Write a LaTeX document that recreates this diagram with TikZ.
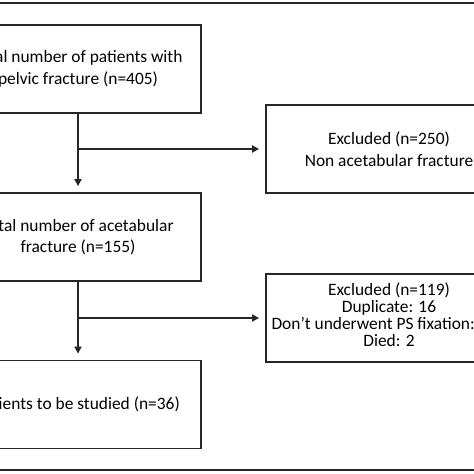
\documentclass[tikz,border=0pt]{standalone}
\usepackage{fontspec}
\setmainfont{Carlito}
\usetikzlibrary{arrows.meta}
\begin{document}
\begin{tikzpicture}[x=1pt,y=-1pt,
  box/.style={draw=black!85, line width=1.8pt, minimum width=246pt, minimum height=88pt,
    align=center, inner sep=0pt, font=\fontsize{17.4}{21.5}\selectfont},
  txt/.style={align=center, inner sep=0pt, font=\fontsize{17.4}{17}\selectfont},
  conn/.style={draw=black!85, line width=1.8pt, -{Triangle[length=7pt,width=7pt]}, shorten >=6pt}]
\useasboundingbox (0,0) rectangle (474,474);
\clip (0,0) rectangle (474,474);
\draw[draw=black!85, line width=2pt] (-10,3) rectangle (484,470);
\node[box] (b1) at (78,69) {Total number of patients with\\pelvic fracture (n=405)};
\node[box] (b2) at (78,237) {Total number of acetabular\\fracture (n=155)};
\node[box] (b3) at (78,404.5) {Patients to be studied (n=36)};
\node[box] (r1) at (389,149) {Excluded (n=250)\\Non acetabular fracture};
\node[box] (r2) at (389,318) {};
\node[txt] (r2t) at (389,314.5) {Excluded (n=119)\\Duplicate: 16\\Don’t underwent PS fixation: 101\\Died: 2};
\draw[conn] (b1.south) -- (b2.north);
\draw[conn] (b1.south |- r1.west) -- (r1.west);
\draw[conn] (b2.south) -- (b3.north);
\draw[conn] (b2.south |- r2.west) -- (r2.west);
\end{tikzpicture}
\end{document}
